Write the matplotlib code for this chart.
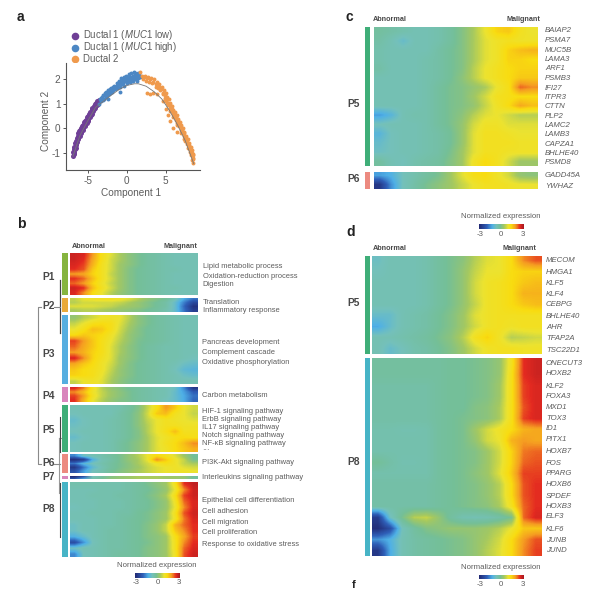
import matplotlib
matplotlib.use("Agg")
import matplotlib.pyplot as plt
from matplotlib.colors import LinearSegmentedColormap

plt.rcParams["font.family"] = ["Liberation Sans", "DejaVu Sans"]
plt.rcParams["mathtext.fontset"] = "custom"
plt.rcParams["mathtext.rm"] = "Liberation Sans"
plt.rcParams["mathtext.it"] = "Liberation Sans:italic"
plt.rcParams["axes.unicode_minus"] = False

W, H = 600, 592
GRAY = "#5c5c5c"

# panel a, trajectory points
low_pts = [(-6.9,-1.15),(-6.85,-0.95),(-6.8,-1.05),(-6.8,-0.85),(-6.75,-1.0),(-6.7,-0.75),(-6.7,-0.95),(-6.65,-0.85),
           (-6.6,-0.6),(-6.55,-0.8),(-6.5,-0.5),(-6.5,-0.7),(-6.45,-0.6),(-6.4,-0.4),(-6.35,-0.55),(-6.3,-0.3),
           (-6.25,-0.45),(-6.2,-0.2),(-6.2,-0.4),(-6.1,-0.25),(-6.05,-0.1),(-6.0,-0.3),(-5.95,-0.05),(-5.9,-0.2),
           (-5.85,0.0),(-5.8,-0.15),(-5.7,0.1),(-5.65,-0.05),(-5.6,0.15),(-5.55,0.0),(-5.5,0.25),(-5.4,0.1),
           (-5.35,0.3),(-5.3,0.15),(-5.2,0.35),(-5.15,0.2),(-5.1,0.45),(-5.0,0.3),(-4.95,0.5),(-4.9,0.35),
           (-4.8,0.6),(-4.75,0.45),(-4.7,0.65),(-4.6,0.55),(-4.5,0.8),(-4.45,0.6),(-4.4,0.85),(-4.3,0.7),
           (-4.2,0.9),(-4.15,0.8),(-4.1,1.0),(-4.0,0.85),(-3.9,1.05),(-3.85,0.95),(-3.8,1.1),(-3.7,1.0),
           (-3.6,1.15),(-3.5,1.1)]
high_pts = [(-3.5,1.0),(-3.4,1.2),(-3.3,1.1),(-3.2,1.3),(-3.1,1.15),(-3.0,1.35),(-2.9,1.2),(-2.8,1.45),(-2.7,1.3),
            (-2.6,1.5),(-2.5,1.35),(-2.4,1.55),(-2.3,1.4),(-2.2,1.6),(-2.1,1.45),(-2.0,1.65),(-1.9,1.5),(-1.8,1.7),
            (-1.7,1.55),(-1.6,1.75),(-1.5,1.6),(-1.4,1.7),(-1.3,1.85),(-1.2,1.65),(-1.1,1.8),(-1.0,1.95),(-0.9,1.7),
            (-0.8,1.9),(-0.7,2.05),(-0.6,1.8),(-0.5,1.95),(-0.4,2.1),(-0.3,1.75),(-0.2,1.95),(-0.1,2.15),(0.0,1.85),
            (0.1,2.05),(0.2,1.95),(0.3,2.2),(0.4,1.9),(0.5,2.1),(0.6,2.25),(0.7,1.95),(0.8,2.15),(0.9,2.3),(1.0,2.0),
            (1.1,2.2),(1.2,2.1),(1.3,1.95),(1.4,2.25),(1.5,2.05),(1.6,2.2),(1.7,2.1),(-2.4,1.2),(-0.9,1.5),
            (-3.3,1.25),(-3.0,1.2),(-2.75,1.35),(-2.55,1.4),(-2.25,1.5),(-2.05,1.55),(-1.85,1.6),(-1.55,1.7),(-1.25,1.75),
            (-1.05,1.85),(-0.75,1.8),(-0.55,2.0),(-0.25,2.05),(0.05,1.95),(0.25,2.1),(0.55,2.0),(0.75,2.1),(0.95,2.15),
            (1.15,2.05),(1.35,2.15),(1.55,2.1),(0.85,1.95),(0.35,2.0),(-0.05,2.0),(-0.45,1.85),(1.05,2.25)]
duct2_pts = [(1.7,2.3),(1.9,2.15),(2.1,2.0),(2.3,2.15),(2.5,1.95),(2.7,2.1),(2.9,1.9),(3.1,2.05),(3.3,1.85),(3.5,2.0),
             (3.7,1.7),(3.9,1.9),(4.0,1.65),(4.2,1.8),(4.3,1.55),(4.5,1.7),(4.6,1.4),(4.8,1.55),(4.9,1.25),(5.0,1.45),
             (5.1,1.1),(5.2,1.3),(5.3,0.95),(5.4,1.2),(5.5,0.85),(5.6,1.05),(5.7,0.7),(5.8,0.9),(5.9,0.6),(6.0,0.75),
             (6.1,0.5),(6.2,0.65),(6.3,0.35),(6.4,0.55),(6.5,0.2),(6.6,0.4),(6.7,0.1),(6.8,0.25),(6.9,-0.05),(7.0,0.15),
             (7.1,-0.15),(7.2,0.0),(7.3,-0.3),(7.4,-0.15),(7.5,-0.5),(7.6,-0.3),(7.7,-0.65),(7.8,-0.45),(7.9,-0.8),
             (8.0,-0.6),(8.1,-0.95),(8.2,-0.75),(8.3,-1.1),(8.4,-0.9),(8.45,-1.25),(8.5,-1.05),(8.55,-1.4),(8.4,-1.3),
             (2.6,1.45),(3.4,1.45),(3.9,1.4),(4.7,1.1),(5.0,0.8),(5.3,0.55),(5.6,0.3),(6.0,0.0),(6.5,-0.15),(3.0,1.4),
             (2.2,2.1),(2.6,2.05),(3.0,2.0),(3.4,1.9),(3.8,1.8),(4.1,1.7),(4.4,1.6),(4.7,1.45),(4.95,1.35),(5.15,1.2),
             (5.35,1.05),(5.55,0.95),(5.75,0.8),(5.95,0.65),(6.15,0.55),(6.35,0.45),(6.55,0.3),(6.75,0.15),(6.95,0.05),
             (7.15,-0.05),(7.35,-0.2),(7.55,-0.4),(7.75,-0.55),(7.95,-0.7),(8.15,-0.85),(8.35,-1.0),(8.5,-1.2),(8.3,-0.95),
             (8.2,-1.0),(8.45,-1.1),(5.2,1.05),(5.5,0.7),(6.0,0.45),(6.4,0.15),(7.0,-0.2),(7.3,-0.45)]
trajectory_x = [-6.9,-6,-5,-4,-3,-2,-1,0,1,1.5,2.5,3.5,4.5,5.5,6.5,7.5,8.6]
trajectory_y = [-1.15,-0.3,0.3,0.85,1.1,1.35,1.58,1.75,1.82,1.82,1.72,1.5,1.2,0.72,0.15,-0.5,-1.45]

# panel b heat blocks, rows by pseudotime bins
b_p1 = [[2.7,2.6,1.9,1.2,.8,.4,.1,-.1,-.3,-.4,-.5,-.6,-.6,-.6],
        [2.7,2.5,1.8,1.2,.7,.4,.1,-.1,-.3,-.4,-.5,-.6,-.6,-.6],
        [2.6,2.4,1.7,1.1,.7,.3,.1,-.1,-.3,-.4,-.5,-.6,-.6,-.6],
        [2.5,2.3,1.5,1.1,.7,.3,0,-.2,-.3,-.4,-.5,-.5,-.6,-.6],
        [1.9,1.8,1.4,1.1,.6,.3,0,-.2,-.3,-.4,-.5,-.6,-.6,-.6],
        [2.5,2.2,1.6,1.1,.7,.3,0,-.2,-.3,-.4,-.5,-.6,-.6,-.6],
        [2.2,1.9,1.4,1.0,.6,.3,0,-.2,-.3,-.4,-.5,-.6,-.6,-.6],
        [2.7,2.5,1.6,1.1,.7,.3,0,-.2,-.3,-.4,-.5,-.5,-.6,-.6],
        [2.6,2.0,1.3,.9,.5,.2,0,-.2,-.3,-.4,-.5,-.6,-.6,-.6]]
b_p2 = [[.6,.9,1.0,1.1,1.1,1.0,.8,.5,.2,0,-.2,-.6,-1.3,-1.8],
        [.5,.7,.7,.7,.7,.6,.4,.2,0,-.2,-.4,-.9,-1.7,-2.4],
        [.8,.8,.8,.7,.6,.4,.3,.2,0,-.2,-.4,-.9,-1.9,-2.8],
        [.4,.5,.5,.4,.3,.2,.1,0,-.2,-.3,-.5,-.9,-1.8,-2.6]]
b_p3 = [[.2,.5,.7,.9,1.0,.9,.5,.1,-.1,-.3,-.4,-.5,-.6,-.6],
        [.6,.9,1.2,1.3,1.2,.8,.4,.1,-.1,-.3,-.4,-.5,-.6,-.6],
        [.9,1.2,1.6,1.5,1.2,.7,.3,0,-.2,-.3,-.4,-.5,-.6,-.6],
        [1.3,1.5,1.4,1.3,1.0,.6,.2,0,-.2,-.3,-.4,-.5,-.6,-.6],
        [2.4,1.9,1.5,1.2,.9,.5,.2,-.1,-.2,-.3,-.4,-.5,-.6,-.6],
        [2.2,1.8,1.5,1.2,.8,.4,.1,-.1,-.3,-.4,-.5,-.5,-.6,-.6],
        [1.9,1.7,1.4,1.2,.8,.4,.1,-.1,-.3,-.4,-.5,-.5,-.6,-.6],
        [2.6,2.0,1.4,1.1,.8,.3,.1,-.1,-.3,-.4,-.5,-.5,-.6,-.7],
        [1.8,1.5,1.3,1.0,.7,.3,0,-.2,-.3,-.4,-.5,-.6,-.8,-.9],
        [1.5,1.3,1.2,1.0,.6,.2,0,-.2,-.3,-.4,-.5,-.7,-1.0,-1.1],
        [1.4,1.3,1.2,.9,.5,.2,0,-.2,-.3,-.4,-.5,-.6,-.8,-.9],
        [.6,.9,1.0,.8,.4,.1,-.1,-.2,-.3,-.4,-.5,-.6,-.6,-.6]]
b_p4 = [[2.6,2.1,1.1,.5,.2,0,-.2,-.3,-.4,-.5,-.6,-.8,-1.6,-2.7],
        [2.0,1.6,1.0,.6,.3,.1,-.1,-.3,-.4,-.5,-.6,-.9,-1.4,-2.0],
        [2.4,1.9,1.1,.6,.3,.1,-.1,-.3,-.4,-.5,-.6,-.9,-1.3,-1.8],
        [2.5,1.7,.9,.5,.2,0,-.1,-.3,-.4,-.5,-.7,-.9,-1.3,-1.9]]
b_p5 = [[-.6,-.6,-.6,-.6,-.6,-.5,-.3,0,.6,1.2,1.9,1.5,.9,.7],
        [-.7,-.6,-.6,-.6,-.6,-.4,-.2,.1,.7,1.5,1.6,1.1,.9,.6],
        [-.9,-.7,-.6,-.6,-.5,-.4,-.2,.1,.6,.9,1.1,1.0,.9,.8],
        [-.8,-.7,-.6,-.6,-.5,-.4,-.2,.1,.5,.9,1.1,1.1,1.0,1.0],
        [-.7,-.6,-.6,-.6,-.5,-.4,-.2,0,.5,.9,1.2,1.6,1.1,1.1],
        [-.9,-.7,-.6,-.6,-.5,-.4,-.2,0,.4,.8,1.0,1.2,1.3,1.2],
        [-.7,-.6,-.6,-.6,-.5,-.3,-.1,.1,.4,.8,1.1,1.3,1.6,2.0],
        [-.7,-.6,-.6,-.6,-.5,-.3,-.1,.1,.4,.8,1.0,1.3,1.5,1.7]]
b_p6 = [[-1.6,-.8,-.6,-.5,-.3,-.1,.2,.5,.9,1.3,1.1,.8,.3,-.2],
        [-2.9,-2.6,-1.2,-.6,-.4,-.1,.2,.4,.9,2.0,1.5,1.0,.6,-.1],
        [-1.8,-1.1,-.7,-.5,-.3,-.1,.1,.4,.7,1.0,1.2,1.0,.6,.4],
        [-2.7,-1.8,-1.0,-.6,-.3,-.1,.1,.3,.6,.8,.9,1.0,.8,.7],
        [-2.2,-1.4,-.7,-.5,-.2,0,.2,.4,.6,.8,.9,1.0,1.0,.9]]
b_p7 = [[-2.9,-2.2,-.7,-.3,0,.2,.3,.4,.4,.4,.3,.3,.2,-.2],
        [-2.3,-1.5,-.5,-.2,.1,.2,.3,.4,.4,.4,.3,.3,.2,-.3]]
b_p8 = [[-.5,-.5,-.5,-.5,-.5,-.5,-.4,-.3,-.1,.1,.3,1.1,2.5,2.8],
        [-.6,-.6,-.6,-.5,-.5,-.5,-.4,-.3,-.2,0,.2,.9,2.0,2.7],
        [-.6,-.6,-.5,-.5,-.5,-.4,-.4,-.3,-.1,.1,.4,1.2,2.4,2.7],
        [-.6,-.6,-.6,-.5,-.5,-.5,-.4,-.3,-.2,0,.2,1.0,2.2,2.6],
        [-.7,-.6,-.6,-.5,-.5,-.5,-.4,-.3,-.2,0,.2,.9,2.0,2.6],
        [-.6,-.6,-.5,-.5,-.5,-.4,-.4,-.2,-.1,.1,.3,1.1,2.3,2.7],
        [-.6,-.6,-.6,-.5,-.5,-.4,-.3,-.2,-.1,.1,.3,1.0,2.1,2.6],
        [-.8,-.6,-.6,-.5,-.5,-.4,-.3,-.2,0,.2,.6,1.7,2.2,2.5],
        [-.8,-.6,-.6,-.5,-.4,-.4,-.3,-.2,0,.2,.6,1.5,2.0,2.5],
        [-1.2,-.9,-.6,-.5,-.4,-.4,-.3,-.2,0,.1,.3,1.2,1.8,2.4],
        [-2.3,-1.5,-.7,-.5,-.4,-.4,-.3,-.2,-.1,.1,.3,1.1,2.0,2.5],
        [-.8,-.6,-.6,-.5,-.4,-.4,-.3,-.2,0,.1,.3,1.1,2.2,2.6],
        [-1.6,-.7,-.6,-.5,-.4,-.3,-.3,-.2,0,.1,.3,1.0,2.3,2.7]]

# panel c
c_genes_p5 = ["BAIAP2","PSMA7","MUC5B","LAMA3","ARF1","PSMB3","IFI27","ITPR3","CTTN","PLP2","LAMC2","LAMB3","CAPZA1","BHLHE40","PSMD8"]
c_genes_p6 = ["GADD45A","YWHAZ"]
c_y_p5 = [31,40.7,50,59.7,69,78.7,88,97.3,107,116.3,125.7,135,144.3,153.7,162.7]
c_y_p6 = [175.7,186]
c_p5 = [[-.3,-.4,-.5,-.6,-.6,-.5,-.3,0,.4,.9,1.4,1.5,1.1,.9],
        [-.4,-.6,-.9,-.6,-.6,-.5,-.3,0,.4,.8,1.0,1.1,1.0,1.0],
        [-.5,-.6,-.6,-.6,-.6,-.4,-.2,0,.4,.8,1.0,1.4,1.6,1.7],
        [-.5,-.6,-.6,-.6,-.5,-.4,-.2,0,.4,.8,1.0,1.4,1.4,1.3],
        [-.4,-.6,-.6,-.6,-.5,-.4,-.2,0,.5,.9,1.1,1.3,1.4,1.4],
        [-.6,-.6,-.6,-.6,-.5,-.4,-.2,.1,.5,.9,1.1,1.3,1.5,1.5],
        [-.6,-.6,-.6,-.6,-.5,-.3,-.1,0,.2,.4,.9,1.2,2.2,2.0],
        [-.6,-.6,-.6,-.6,-.5,-.3,-.1,0,.3,.7,1.1,1.2,1.3,1.3],
        [-.6,-.6,-.6,-.6,-.5,-.3,-.1,0,.2,.6,1.0,1.3,1.8,1.6],
        [-1.4,-1.1,-.6,-.5,-.5,-.3,-.1,.1,.5,.8,.9,.7,.5,.5],
        [-.7,-.6,-.6,-.6,-.5,-.3,-.1,.2,.7,1.0,1.0,.8,.8,.8],
        [-1.1,-.7,-.6,-.6,-.5,-.4,-.2,.2,.8,1.1,1.1,1.0,.9,.9],
        [-.9,-.7,-.6,-.6,-.5,-.4,-.2,.2,.8,1.1,1.1,1.1,1.0,1.0],
        [-.8,-.7,-.6,-.6,-.5,-.4,-.1,.3,.8,1.1,1.1,1.0,1.0,1.0],
        [-.3,-.6,-.7,-.5,-.4,-.3,0,.3,1.0,1.3,1.1,.7,.3,.3]]
c_p6 = [[-1.4,-1.2,-.7,-.5,-.3,-.1,.3,.8,1.2,1.3,1.0,.7,.2,.1],
        [-2.7,-1.5,-.7,-.4,-.1,.1,.3,.6,.9,1.1,1.1,1.0,.9,.9]]

# panel d
d_genes_p5 = ["MECOM","HMGA1","KLF5","KLF4","CEBPG","BHLHE40","AHR","TFAP2A","TSC22D1"]
d_genes_p8 = ["ONECUT3","HOXB2","KLF2","FOXA3","MXD1","TOX3","ID1","PITX1","HOXB7","FOS","PPARG","HOXB6","SPDEF","HOXB3","ELF3","KLF6","JUNB","JUND"]
d_y_p5 = [260.7,272,283.7,294,305,316.3,327.7,338.3,350]
d_y_p8 = [363.3,373.7,386,396.7,407.3,418.3,428.7,439.7,451.7,463.3,473.7,485,496,506,517,529.3,540,550.7]
d_p5 = [[-.8,-.6,-.6,-.6,-.5,-.3,-.1,.1,.5,.8,.9,1.3,2.0,2.3],
        [-.7,-.6,-.6,-.6,-.5,-.3,-.1,.2,.6,.9,.9,1.3,1.4,1.4],
        [-.6,-.6,-.6,-.6,-.5,-.3,-.1,.2,.7,1.0,1.1,1.3,1.5,1.6],
        [-.6,-.6,-.6,-.6,-.5,-.3,-.1,.2,.7,1.0,1.1,1.3,1.7,1.7],
        [-.6,-.6,-.6,-.6,-.5,-.3,-.1,.2,.6,1.0,1.1,1.3,1.5,1.6],
        [-.9,-.9,-.6,-.5,-.4,-.2,0,.3,.8,1.0,1.1,1.1,1.1,1.1],
        [-1.3,-.9,-.6,-.5,-.4,-.2,0,.3,.7,1.0,1.1,1.0,1.1,1.1],
        [-.6,-.6,-.5,-.4,-.3,-.1,.1,.5,1.1,1.4,1.0,.5,.6,.7],
        [-.6,-.9,-.7,-.5,-.4,-.2,0,.3,.7,1.0,1.1,1.1,1.0,1.0]]
d_p8 = [[-.3,-.3,-.3,-.3,-.3,-.3,-.2,-.2,-.1,0,.2,1.1,2.5,2.7],
        [-.3,-.3,-.3,-.3,-.3,-.3,-.2,-.2,-.1,0,.2,1.2,2.5,2.7],
        [-.4,-.4,-.4,-.4,-.4,-.3,-.2,-.2,-.1,0,.3,1.2,2.4,2.6],
        [-.4,-.4,-.4,-.4,-.4,-.3,-.2,-.2,-.1,0,.3,1.2,2.4,2.6],
        [-.4,-.4,-.4,-.4,-.4,-.3,-.2,-.2,0,.1,.4,1.2,2.3,2.6],
        [-.4,-.4,-.4,-.4,-.4,-.3,-.2,-.1,0,.1,.4,1.2,2.4,2.6],
        [-.5,-.5,-.55,-.55,-.5,-.3,-.2,-.1,.3,.7,1.0,1.3,1.7,1.8],
        [-.5,-.5,-.5,-.5,-.5,-.3,-.2,-.1,.2,.7,.9,1.7,1.9,1.8],
        [-.5,-.5,-.5,-.5,-.5,-.3,-.2,-.1,0,.3,.7,1.4,2.1,2.2],
        [-.2,-.4,-.55,-.55,-.5,-.3,-.2,-.1,0,.3,.7,1.4,2.2,2.3],
        [-.5,-.5,-.5,-.5,-.5,-.3,-.2,-.1,.1,.3,.8,1.5,2.4,2.4],
        [-.4,-.4,-.4,-.4,-.4,-.3,-.2,-.1,0,.2,.5,1.3,2.3,2.5],
        [-.4,-.4,-.4,-.4,-.4,-.3,-.2,-.1,0,.2,.5,1.3,2.3,2.5],
        [-.4,-.4,-.4,-.4,-.4,-.3,-.2,-.1,0,.1,.4,1.1,2.2,2.5],
        [-2.6,-.8,-.1,.5,.6,.2,-.3,-.55,-.6,-.55,-.4,-.1,2.2,2.6],
        [-2.9,-2.3,-.7,-.3,0,.1,.2,.2,.2,.3,.5,.9,1.5,1.5],
        [-1.5,-1.2,-.6,-.4,-.3,-.2,-.1,0,.2,.4,.7,1.3,1.9,2.3],
        [-2.7,-1.3,-.6,-.4,-.3,-.2,-.1,0,.2,.5,.8,1.3,2.0,2.4]]

heat = LinearSegmentedColormap.from_list("heat", [
    (0.0, "#222a75"), (0.17, "#2f5fb8"), (0.29, "#4fb0e6"), (0.38, "#74c1bb"), (0.47, "#74bf98"),
    (0.56, "#a3c862"), (0.65, "#ece330"), (0.72, "#f9dc10"), (0.82, "#f59c22"), (0.92, "#e42a20"), (1.0, "#a81a22")])


def px_axes(x0, y0, x1, y1):
    # axes from pixel box, y measured from the top of the picture
    return fig.add_axes([x0 / W, 1 - y1 / H, (x1 - x0) / W, (y1 - y0) / H])


def heat_block(matrix, x0, y0, x1, y1):
    ax = px_axes(x0, y0, x1, y1)
    ax.imshow(matrix, cmap=heat, vmin=-3, vmax=3, aspect="auto", interpolation="bilinear")
    ax.axis("off")


def colour_key(x0, y0, x1, y1, title_x, title_y, tick_y):
    ax = px_axes(x0, y0, x1, y1)
    ax.imshow([[i / 60 * 6 - 3 for i in range(61)]], cmap=heat, vmin=-3, vmax=3, aspect="auto")
    ax.axis("off")
    ov.text(title_x, title_y, "Normalized expression", fontsize=5.6, color=GRAY, ha="center", va="center")
    for lab, tx in zip(["-3", "0", "3"], [x0 + 1, (x0 + x1) / 2, x1 - 1]):
        ov.text(tx, tick_y, lab, fontsize=5.6, color=GRAY, ha="center", va="center")


fig = plt.figure(figsize=(W / 100, H / 100), dpi=100)

# overlay in picture pixels for labels, strips and the dendrogram
ov = fig.add_axes([0, 0, 1, 1])
ov.set_xlim(0, W)
ov.set_ylim(H, 0)
ov.axis("off")

# panel a
ax = px_axes(66, 63, 200, 170)
groups = [(low_pts, "#6f3f96", 13, r"Ductal 1 ($\mathit{MUC1}$ low)", 35.5),
          (high_pts, "#4c87c4", 8, r"Ductal 1 ($\mathit{MUC1}$ high)", 47.5),
          (duct2_pts, "#ef9a4d", 8, "Ductal 2", 59)]
for pts, col, size, lab, ly in groups:
    ax.scatter([p[0] for p in pts], [p[1] for p in pts], s=size, color=col, linewidths=0, zorder=2)
    ov.scatter([75.3], [ly], s=30, color=col, linewidths=0)
    ov.text(83, ly, lab, fontsize=6.9, color=GRAY, va="center")
ax.plot(trajectory_x, trajectory_y, color="#777777", lw=0.6, zorder=3)
ax.set_xlim(-7.78, 9.4)
ax.set_ylim(-1.705, 2.67)
ax.set_xticks([-5, 0, 5])
ax.set_yticks([-1, 0, 1, 2])
ax.tick_params(labelsize=7.2, labelcolor=GRAY, color="#555555", length=2.5, width=0.7, pad=1.5)
for s in ["top", "right"]:
    ax.spines[s].set_visible(False)
for s in ["left", "bottom"]:
    ax.spines[s].set_color("#555555")
    ax.spines[s].set_linewidth(0.8)
ax.set_xlabel("Component 1", fontsize=7.2, color=GRAY)
ax.set_ylabel("Component 2", fontsize=7.2, color=GRAY)
ax.xaxis.set_label_coords(0.485, -0.168)
ax.yaxis.set_label_coords(-0.112, 0.46)

# panel b
b_blocks = [("P1", b_p1, 253.3, 295, "#86b43f", 276.7), ("P2", b_p2, 297.7, 312.3, "#e9a93a", 305.7),
            ("P3", b_p3, 315.3, 383.7, "#56aee0", 354.3), ("P4", b_p4, 387, 402.3, "#d986bd", 395.7),
            ("P5", b_p5, 405, 451.7, "#3fae78", 430.3), ("P6", b_p6, 454.3, 473.3, "#ec8a80", 463),
            ("P7", b_p7, 476, 479, "#d986bd", 477), ("P8", b_p8, 481.7, 557.3, "#47b4c6", 509.3)]
for name, m, y0, y1, col, ly in b_blocks:
    heat_block(m, 70, y0, 197, y1)
    ov.fill_between([62, 68], y0, y1, color=col, lw=0)
    ov.text(42.5, ly, name, fontsize=7.4, fontweight="bold", color="#484848", va="center", zorder=4)

ov.plot([41, 37.5, 37.5, 41], [306.7, 306.7, 464, 464], color="#8a8a8a", lw=0.8, zorder=3)
ov.plot([54, 60], [306.7, 306.7], color="#8a8a8a", lw=0.8, zorder=3)
ov.plot([54, 60], [464, 464], color="#8a8a8a", lw=0.8, zorder=3)
ov.plot([60, 60], [280, 333], color="#444444", lw=0.9)
ov.plot([58.5, 58.5], [438, 493], color="#999999", lw=0.8)
ov.plot([58.5, 61], [438, 438], color="#999999", lw=0.8)
ov.plot([60, 60], [417, 452], color="#444444", lw=0.8)
ov.plot([60, 60], [483, 537], color="#444444", lw=0.8)

b_terms = [("Lipid metabolic process", 202.7, 267), ("Oxidation-reduction process", 202.7, 276),
           ("Digestion", 202.7, 285), ("Translation", 202.7, 303), ("Inflammatory response", 202.7, 311),
           ("Pancreas development", 201.7, 342), ("Complement cascade", 201.7, 352.7),
           ("Oxidative phosphorylation", 201.7, 363), ("Carbon metabolism", 201.7, 395.7),
           ("HIF-1 signaling pathway", 201.7, 411.7), ("ErbB signaling pathway", 201.7, 419.5),
           ("IL17 signaling pathway", 201.7, 427.5), ("Notch signaling pathway", 201.7, 435.5),
           ("NF-κB signaling pathway", 201.7, 443.7), ("···", 201.7, 451),
           ("PI3K-Akt signaling pathway", 201.7, 462.7), ("Interleukins signaling pathway", 201.7, 477.7),
           ("Epithelial cell differentiation", 201.7, 500.3), ("Cell adhesion", 201.7, 511.3),
           ("Cell migration", 201.7, 522), ("Cell proliferation", 201.7, 533),
           ("Response to oxidative stress", 201.7, 544)]
for lab, tx, ty in b_terms:
    ov.text(tx, ty, lab, fontsize=5.4, color=GRAY, va="center")

colour_key(135, 572.7, 180, 577.7, 157, 565.7, 582.5)

# panels c and d
heat_block(c_p5, 374, 26.7, 538, 165.7)
heat_block(c_p6, 374, 171.7, 538, 189.3)
ov.fill_between([365, 370], 26.7, 165.7, color="#3fae78", lw=0)
ov.fill_between([365, 370], 171.7, 189.3, color="#ec8a80", lw=0)
heat_block(d_p5, 372, 255.7, 541.7, 354.3)
heat_block(d_p8, 372, 358.3, 541.7, 556)
ov.fill_between([365, 370], 255.7, 354.3, color="#3fae78", lw=0)
ov.fill_between([365, 370], 358.3, 556, color="#47b4c6", lw=0)
for genes, ys in [(c_genes_p5, c_y_p5), (c_genes_p6, c_y_p6)]:
    for g, gy in zip(genes, ys):
        ov.text(545, gy, g, fontsize=5.6, style="italic", color=GRAY, va="center")
for genes, ys in [(d_genes_p5, d_y_p5), (d_genes_p8, d_y_p8)]:
    for g, gy in zip(genes, ys):
        ov.text(546, gy, g, fontsize=5.6, style="italic", color=GRAY, va="center")

for tx, ty, lab in [(360, 104, "P5"), (360, 179, "P6"), (360, 303, "P5"), (360, 462, "P8")]:
    ov.text(tx, ty, lab, fontsize=7.4, fontweight="bold", color="#484848", ha="right", va="center")

for ax_x, mal_x, ty in [(71.7, 197, 246.7), (372.7, 540, 19.3), (373, 536.7, 249)]:
    ov.text(ax_x, ty, "Abnormal", fontsize=5.2, fontweight="bold", color="#484848", va="center")
    ov.text(mal_x, ty, "Malignant", fontsize=5.2, fontweight="bold", color="#484848", ha="right", va="center")

colour_key(479, 224.3, 523.7, 229.3, 501, 217, 234)
colour_key(479, 574.7, 523.7, 579.3, 501, 567.3, 584)

for tx, ty, lab in [(17, 17, "a"), (17, 224, "b"), (346, 17, "c"), (346, 232, "d")]:
    ov.text(tx, ty, lab, fontsize=10, fontweight="bold", color="#222222", va="center")
ov.text(352, 590.5, "f", fontsize=8, fontweight="bold", color="#222222", va="bottom")

fig.savefig("out.png", dpi=100)
